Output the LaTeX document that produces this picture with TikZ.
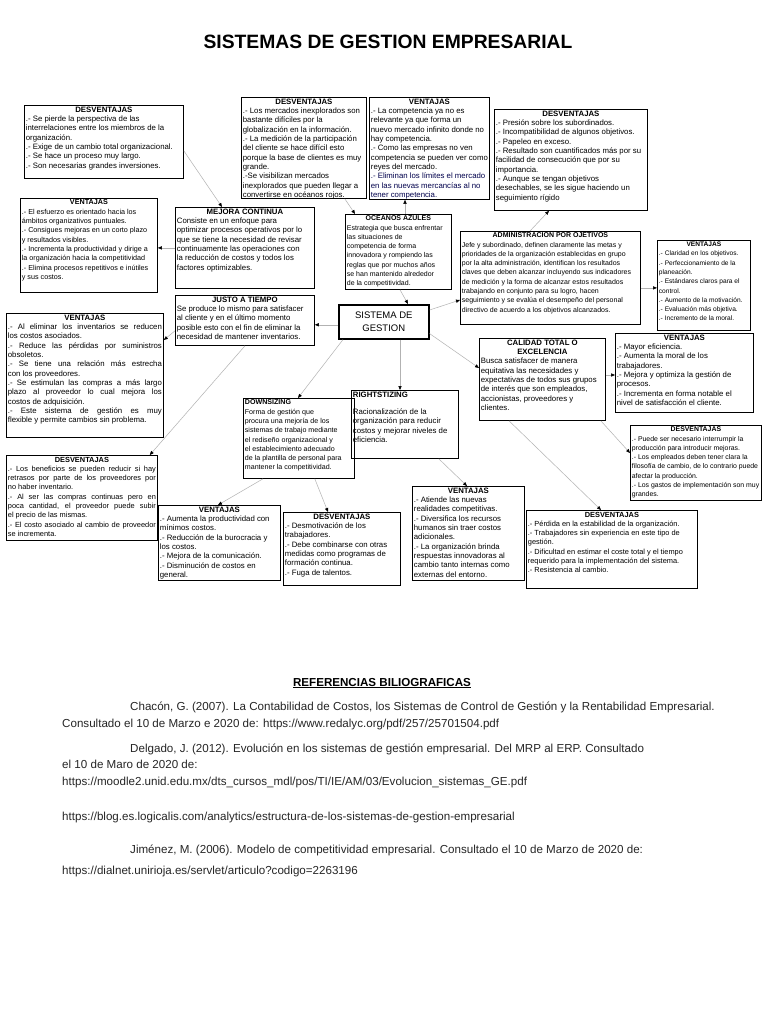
\documentclass[tikz,border=0pt]{standalone}
\usepackage{fontspec}
\setmainfont{Liberation Sans}
\usetikzlibrary{arrows.meta,calc}
\newcommand{\hd}[1]{\makebox[\linewidth]{\bfseries #1}}
\newcommand{\jst}{\rightskip=0pt\relax}
\newcommand{\bx}[7][]{\node[cb,#1] (#2) at (#3,#4) {\parbox[t][\dimexpr#6pt-3pt\relax][t]{\dimexpr#5pt-3pt\relax}{\raggedright #7}};}
\tikzset{
  cb/.style={draw, line width=0.8pt, inner sep=1.5pt, anchor=north west, font=\fontsize{7.8}{9.3}\selectfont},
  small/.style={font=\fontsize{7.2}{9.3}\selectfont},
  mid/.style={font=\fontsize{7.4}{9.3}\selectfont},
  conn/.style={draw=gray!60, line width=0.5pt, -{Triangle[length=4pt,width=3.2pt,black]}},
  reftxt/.style={anchor=base west, inner sep=0pt, font=\fontsize{11.6}{13}\selectfont, text=black!85}
}
\begin{document}
\begin{tikzpicture}[x=1pt,y=-1pt]
\useasboundingbox[fill=white] (0,0) rectangle (768,1024);
\node[font=\fontsize{19.3}{22}\selectfont\bfseries] (title) at (388,42) {SISTEMAS DE GESTION EMPRESARIAL};

\bx{b1}{24}{105}{159}{73}{\hd{DESVENTAJAS}\\.- Se pierde la perspectiva de las\\interrelaciones entre los miembros de la\\organización.\\.- Exige de un cambio total organizacional.\\.- Se hace un proceso muy largo.\\.- Son necesarias grandes inversiones.}
\bx{b2}{241}{97}{125}{101}{\hd{DESVENTAJAS}\\.- Los mercados inexplorados son\\bastante difíciles por la\\globalización en la información.\\.- La medición de la participación\\del cliente se hace difícil esto\\porque la base de clientes es muy\\grande.\\.-Se visibilizan mercados\\inexplorados que pueden llegar a\\convertirse en océanos rojos.}
\bx{b3}{369}{97}{120}{102}{\hd{VENTAJAS}\\.- La competencia ya no es\\relevante ya que forma un\\nuevo mercado infinito donde no\\hay competencia.\\.- Como las empresas no ven\\competencia se pueden ver como\\reyes del mercado.\\\textcolor{black!70!blue}{.- Eliminan los límites el mercado}\\\textcolor{black!70!blue}{en las nuevas mercancías al no}\\\textcolor{black!70!blue}{tener competencia.}}
\bx{b4}{494}{109}{153}{101}{\hd{DESVENTAJAS}\\.- Presión sobre los subordinados.\\.- Incompatibilidad de algunos objetivos.\\.- Papeleo en exceso.\\.- Resultado son cuantificados más por su\\facilidad de consecución que por su\\importancia.\\.- Aunque se tengan objetivos\\desechables, se les sigue haciendo un\\seguimiento rígido}
\bx[small]{b5}{20}{198}{137}{94}{\hd{VENTAJAS}\\.- El esfuerzo es orientado hacia los\\ámbitos organizativos puntuales.\\.- Consigues mejoras en un corto plazo\\y resultados visibles.\\.- Incrementa la productividad y dirige a\\la organización hacia la competitividad\\.- Elimina procesos repetitivos e inútiles\\y sus costos.}
\bx{mc}{175}{207}{139}{81}{\hd{MEJORA CONTINUA}\\Consiste en un enfoque para\\optimizar procesos operativos por lo\\que se tiene la necesidad de revisar\\continuamente las operaciones con\\la reducción de costos y todos los\\factores optimizables.}
\bx[font=\fontsize{7}{9.3}\selectfont]{oa}{345}{214}{106}{75}{\hd{OCEANOS AZULES}\\Estrategia que busca enfrentar\\las situaciones de\\competencia de forma\\innovadora y rompiendo las\\reglas que por muchos años\\se han mantenido alrededor\\de la competitividad.}
\bx[font=\fontsize{7}{9.3}\selectfont]{ad}{460}{231}{180}{93}{\hd{ADMINISTRACION POR OJETIVOS}\\Jefe y subordinado, definen claramente las metas y\\prioridades de la organización establecidas en grupo\\por la alta administración, identifican los resultados\\claves que deben alcanzar incluyendo sus indicadores\\de medición y la forma de alcanzar estos resultados\\trabajando en conjunto para su logro, hacen\\seguimiento y se evalúa el desempeño del personal\\directivo de acuerdo a los objetivos alcanzados.}
\bx[font=\fontsize{6.6}{9.3}\selectfont]{b9}{657}{240}{93}{90}{\hd{VENTAJAS}\\.- Claridad en los objetivos.\\.- Perfeccionamiento de la\\planeación.\\.- Estándares claros para el\\control.\\.- Aumento de la motivación.\\.- Evaluación más objetiva.\\.- Incremento de la moral.}
\bx{jit}{175}{295}{139}{50}{\hd{JUSTO A TIEMPO}\\Se produce lo mismo para satisfacer\\al cliente y en el último momento\\posible esto con el fin de eliminar la\\necesidad de mantener inventarios.}
\node[draw, line width=1.6pt, minimum width=90pt, minimum height=34pt, anchor=north west, align=center, font=\fontsize{9.5}{13}\selectfont] (sg) at (338,304) {SISTEMA DE\\GESTION};
\bx{b12}{6}{313}{157}{124}{\jst\hd{VENTAJAS}\par .- Al eliminar los inventarios se reducen\linebreak los costos asociados.\par .- Reduce las pérdidas por suministros\linebreak obsoletos.\par .- Se tiene una relación más estrecha\linebreak con los proveedores.\par .- Se estimulan las compras a más largo\linebreak plazo al proveedor lo cual mejora los\linebreak costos de adquisición.\par .- Este sistema de gestión es muy\linebreak flexible y permite cambios sin problema.}
\bx{cal}{479}{338}{126}{82}{\hd{CALIDAD TOTAL O}\\\hd{EXCELENCIA}\\Busca satisfacer de manera\\equitativa las necesidades y\\expectativas de todos sus grupos\\de interés que son empleados,\\accionistas, proveedores y\\clientes.}
\bx{b14}{615}{333}{138}{79}{\hd{VENTAJAS}\\.- Mayor eficiencia.\\.- Aumenta la moral de los\\trabajadores.\\.- Mejora y optimiza la gestión de\\procesos.\\.- Incrementa en forma notable el\\nivel de satisfacción el cliente.}
\bx[font=\fontsize{7.1}{9.3}\selectfont]{ds}{243}{398}{111}{80}{\textbf{DOWNSIZING}\\Forma de gestión que\\procura una mejoría de los\\sistemas de trabajo mediante\\el rediseño organizacional y\\el establecimiento adecuado\\de la plantilla de personal para\\mantener la competitividad.}
\bx{rs}{351}{390}{107}{68}{\textbf{RIGHTSTIZING}\\[8pt]Racionalización de la\\organización para reducir\\costos y mejorar niveles de\\eficiencia.}
\bx[font=\fontsize{6.9}{9.3}\selectfont]{b17}{630}{425}{131}{75}{\hd{DESVENTAJAS}\\.- Puede ser necesario interrumpir la\\producción para introducir mejoras.\\.- Los empleados deben tener clara la\\filosofía de cambio, de lo contrario puede\\afectar la producción.\\.- Los gastos de implementación son muy\\grandes.}
\bx[mid]{b18}{6}{455}{151}{85}{\jst\hd{DESVENTAJAS}\par .- Los beneficios se pueden reducir si hay\linebreak retrasos por parte de los proveedores por\linebreak no haber inventario.\par .- Al ser las compras continuas pero en\linebreak poca cantidad, el proveedor puede subir\linebreak el precio de las mismas.\par .- El costo asociado al cambio de proveedor\linebreak se incrementa.}
\bx{b19}{158}{505}{122}{75}{\hd{VENTAJAS}\\.- Aumenta la productividad con\\mínimos costos.\\.- Reducción de la burocracia y\\los costos.\\.- Mejora de la comunicación.\\.- Disminución de costos en\\general.}
\bx{b20}{283}{512}{117}{73}{\hd{DESVENTAJAS}\\.- Desmotivación de los\\trabajadores.\\.- Debe combinarse con otras\\medidas como programas de\\formación continua.\\.- Fuga de talentos.}
\bx{b21}{412}{486}{112}{94}{\hd{VENTAJAS}\\.- Atiende las nuevas\\realidades competitivas.\\.- Diversifica los recursos\\humanos sin traer costos\\adicionales.\\.- La organización brinda\\respuestas innovadoras al\\cambio tanto internas como\\externas del entorno.}
\bx[mid]{b22}{526}{510}{171}{78}{\hd{DESVENTAJAS}\\.- Pérdida en la estabilidad de la organización.\\.- Trabajadores sin experiencia en este tipo de\\gestión.\\.- Dificultad en estimar el coste total y el tiempo\\requerido para la implementación del sistema.\\.- Resistencia al cambio.}

% connectors
\draw[conn] ([yshift=28pt]b1.south east) -- ([xshift=47pt]mc.north west);
\draw[conn] ([xshift=-22pt]b2.south east) -- ([xshift=10pt]oa.north west);
\draw[conn] ([xshift=60pt]oa.north west) -- ([xshift=60pt]oa.north west |- b3.south);
\draw[conn] ([xshift=70pt]ad.north west) -- ([xshift=55pt]b4.south west);
\draw[conn] (mc.west) -- (mc.west -| b5.east);
\draw[conn] ([yshift=-3pt]sg.west) -- ([yshift=-3pt]sg.west -| jit.east);
\draw[conn] ([xshift=55pt]oa.south west) -- ([xshift=70pt]sg.north west);
\draw[conn] ([yshift=-6pt]sg.north east) -- ([yshift=-69pt]ad.north west);
\draw[conn] ([yshift=-10pt]ad.east) -- ([yshift=-10pt]ad.east -| b9.west);
\draw[conn] ([yshift=15pt]jit.south west) -- ([yshift=-27pt]b12.north east);
\draw[conn] ([xshift=5pt]sg.south west) -- ([xshift=55pt]ds.north west);
\draw[conn] ([xshift=62pt]sg.south west) -- ([xshift=49pt]rs.north west);
\draw[conn] ([yshift=6pt]sg.south east) -- ([yshift=-30pt]cal.north west);
\draw[conn] ([yshift=-37pt]cal.north east) -- ([yshift=-37pt]cal.north east -| b14.west);
\draw[conn] ([xshift=-5pt]cal.south east) -- ([yshift=-28pt]b17.north west);
\draw[conn] ([xshift=30pt]cal.south west) -- ([xshift=75pt]b22.north west);
\draw[conn] ([xshift=70pt]jit.south west) -- ([xshift=-8pt]b18.north east);
\draw[conn] ([xshift=20pt]ds.south west) -- ([xshift=60pt]b19.north west);
\draw[conn] ([xshift=-40pt]ds.south east) -- ([xshift=45pt]b20.north west);
\draw[conn] ([xshift=-20pt]rs.south east) -- ([xshift=55pt]b21.north west);

% references
\node[font=\fontsize{11.6}{13}\selectfont\bfseries, anchor=base] (rt) at (382,686) {\underline{REFERENCIAS BILIOGRAFICAS}};
\node[reftxt] (r1a) at (130,710) {Chacón, G. (2007). La Contabilidad de Costos, los Sistemas de Control de Gestión y la Rentabilidad Empresarial.};
\node[reftxt] (r1b) at (62,727) {Consultado el 10 de Marzo e 2020 de: https://www.redalyc.org/pdf/257/25701504.pdf};
\node[reftxt] (r2a) at (130,752) {Delgado, J. (2012). Evolución en los sistemas de gestión empresarial. Del MRP al ERP. Consultado};
\node[reftxt] (r2b) at (62,768) {el 10 de Maro de 2020 de:};
\node[reftxt] (r2c) at (62,785) {https://moodle2.unid.edu.mx/dts\_cursos\_mdl/pos/TI/IE/AM/03/Evolucion\_sistemas\_GE.pdf};
\node[reftxt] (r3) at (62,820) {https://blog.es.logicalis.com/analytics/estructura-de-los-sistemas-de-gestion-empresarial};
\node[reftxt] (r4a) at (130,853) {Jiménez, M. (2006). Modelo de competitividad empresarial. Consultado el 10 de Marzo de 2020 de:};
\node[reftxt] (r4b) at (62,874) {https://dialnet.unirioja.es/servlet/articulo?codigo=2263196};
\end{tikzpicture}
\end{document}
